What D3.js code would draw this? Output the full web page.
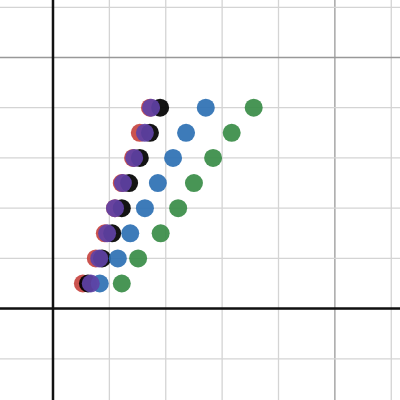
<!DOCTYPE html><html><head><script src="https://cdn.jsdelivr.net/npm/d3@7"></script>
<style>body{margin:0}svg{display:block}</style></head><body><svg id="c" width="400" height="400"></svg>
<script>
const yVals=[0.5,1,1.5,2,2.5,3,3.5,4];
const red=[0.53,0.76,0.92,1.10,1.22,1.42,1.54,1.72];
const black=[0.62,0.87,1.05,1.22,1.35,1.54,1.72,1.90];
const blue=[0.83,1.15,1.37,1.63,1.86,2.13,2.36,2.71];
const green=[1.22,1.51,1.91,2.22,2.5,2.84,3.17,3.56];
const purple=[0.67,0.82,0.96,1.10,1.24,1.44,1.63,1.74];
const series=[[red,"#c74440"],[black,"#000000"],[blue,"#2d70b3"],[green,"#388c46"],[purple,"#6042a6"]];
const svg=d3.select("#c");
const x=d3.scaleLinear().domain([-0.94,6.155]).range([0,400]);
const y=d3.scaleLinear().domain([-1.82,6.145]).range([400,0]);
svg.append("rect").attr("width",400).attr("height",400).attr("fill","#fff");
const xt=d3.range(-1,7),yt=d3.range(-1,7);
svg.selectAll(".gx").data(xt).enter().append("line").attr("x1",d=>x(d)).attr("x2",d=>x(d)).attr("y1",0).attr("y2",400)
 .attr("stroke",d=>d%5===0?"#999":"#d4d4d4").attr("stroke-width",1.3);
svg.selectAll(".gy").data(yt).enter().append("line").attr("y1",d=>y(d)).attr("y2",d=>y(d)).attr("x1",0).attr("x2",400)
 .attr("stroke",d=>d%5===0?"#999":"#d4d4d4").attr("stroke-width",1.3);
svg.append("line").attr("x1",x(0)).attr("x2",x(0)).attr("y1",0).attr("y2",400).attr("stroke","#111").attr("stroke-width",2.5);
svg.append("line").attr("y1",y(0)).attr("y2",y(0)).attr("x1",0).attr("x2",400).attr("stroke","#111").attr("stroke-width",2.5);
series.forEach(([vals,col])=>{
 svg.append("g").selectAll("circle").data(vals).enter().append("circle")
  .attr("cx",d=>x(d)).attr("cy",(d,i)=>y(yVals[i])).attr("r",9).attr("fill",col).attr("fill-opacity",0.92);
});
</script></body></html>
